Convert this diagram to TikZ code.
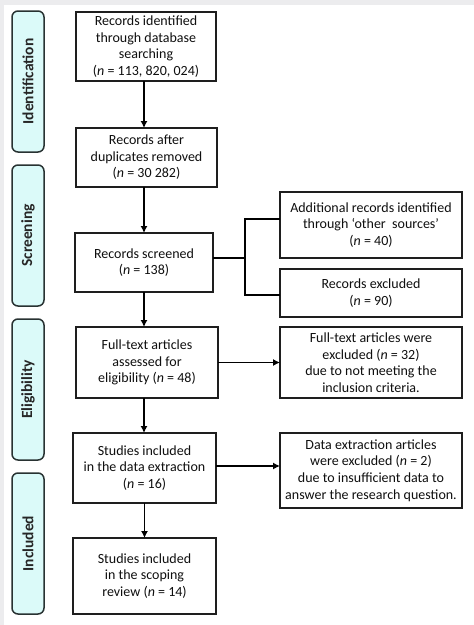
\documentclass[tikz,border=0pt]{standalone}
\usepackage{fontspec}
\setmainfont{Carlito}
\usetikzlibrary{arrows.meta}
\definecolor{labfill}{RGB}{219,250,249}
\definecolor{labdraw}{RGB}{40,50,50}
\definecolor{boxdraw}{RGB}{30,30,30}
\definecolor{txt}{RGB}{15,15,15}
\definecolor{edgegray}{RGB}{236,236,238}
\begin{document}
\begin{tikzpicture}[x=1pt,y=-1pt,
  every node/.style={inner sep=0pt,outer sep=0pt,text=txt,font=\fontsize{14}{16.6}\selectfont,align=center},
  mainbox/.style={draw=boxdraw,line width=1.6pt,fill=white,minimum width=#1},
  stagebox/.style={draw=labdraw,line width=1.5pt,fill=labfill,rounded corners=6pt,rotate=90,minimum width=141pt,minimum height=32pt,font=\fontsize{15.5}{18}\bfseries\selectfont,text=black!85},
  flow/.style={draw=black,line width=1.2pt,-{Latex[length=7pt,width=7pt]}},
  link/.style={draw=black,line width=1.2pt}]
\useasboundingbox (0,0) rectangle (474,625);
\fill[edgegray] (0,0) rectangle (474,625);
\fill[white] (4,5) rectangle (474,625);
% stage labels
\node[stagebox] (l1) at (28,81.5) {Identification};
\node[stagebox] (l2) at (28,235.5) {Screening};
\node[stagebox] (l3) at (28,389.5) {Eligibility};
\node[stagebox] (l4) at (28,543.5) {Included};
% main column
\node[mainbox=140pt,minimum height=69pt] (b1) at (146,46.5) {Records identified\\through database\\searching\\(\textit{n} = 113, 820, 024)};
\node[mainbox=141pt,minimum height=59pt] (b2) at (146.5,157.5) {Records after\\duplicates removed\\(\textit{n} = 30 282)};
\node[mainbox=138pt,minimum height=59pt] (b3) at (144,262.5) {Records screened\\(\textit{n} = 138)};
\node[mainbox=142pt,minimum height=71pt] (b4) at (147,362.5) {Full-text articles\\assessed for\\eligibility (\textit{n} = 48)};
\node[mainbox=143pt,minimum height=70pt] (b5) at (144.5,468) {Studies included\\in the data extraction\\(\textit{n} = 16)};
\node[mainbox=143pt,minimum height=76pt] (b6) at (144.5,576) {Studies included\\in the scoping\\review (\textit{n} = 14)};
% right column
\node[mainbox=182pt,minimum height=66pt] (r1) at (371,225) {Additional records identified\\through ‘other\ \ sources’\\(\textit{n} = 40)};
\node[mainbox=182pt,minimum height=48pt] (r2) at (371,293) {Records excluded\\(\textit{n} = 90)};
\node[mainbox=182pt,minimum height=71pt] (r3) at (371,362.5) {Full-text articles were\\excluded (\textit{n} = 32)\\due to not meeting the\\inclusion criteria.};
\node[mainbox=182pt,minimum height=75pt] (r4) at (371,470.5) {Data extraction articles\\were excluded (\textit{n} = 2)\\due to insufficient data to\\answer the research question.};
% connectors
\draw[flow] ([xshift=-2pt]b1.south) -- ([xshift=-2pt]b1.south |- b2.north);
\draw[flow] ([xshift=-2.5pt]b2.south) -- ([xshift=-2.5pt]b2.south |- b3.north);
\draw[flow] (b3.south) -- (b3.south |- b4.north);
\draw[flow] ([xshift=-3pt]b4.south) -- ([xshift=-3pt]b4.south |- b5.north);
\draw[flow] (b5.south) -- (b5.south |- b6.north);
\coordinate (j) at (245,258);
\draw[link] ([yshift=4.5pt]b3.east) -- (j);
\draw[link] ([yshift=6pt]r1.west) -| (j) |- ([yshift=-2pt]r2.west);
\draw[flow] (b4.east) -- (r3.west);
\draw[flow] ([yshift=2pt]b5.east) -- ([yshift=2pt]b5.east -| r4.west);
\end{tikzpicture}
\end{document}
